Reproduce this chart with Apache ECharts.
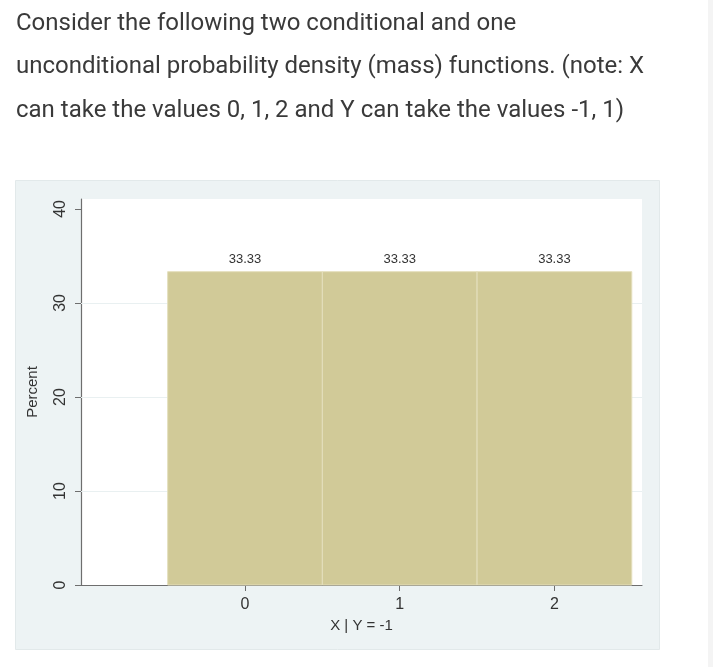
<!DOCTYPE html>
<html>
<head>
<meta charset="utf-8">
<script src="https://cdn.jsdelivr.net/npm/echarts@6/dist/echarts.min.js"></script>
<style>
html,body{margin:0;padding:0;background:#fff;}
#chart{width:713px;height:667px;}
</style>
</head>
<body>
<div id="chart"></div>
<script>
// ---- data ----
const questionLines = [
  'Consider the following two conditional and one',
  'unconditional probability density (mass) functions. (note: X',
  'can take the values 0, 1, 2 and Y can take the values -1, 1)'
];
const xValues = [0, 1, 2];
const percents = [33.33, 33.33, 33.33];
const yTickValues = [0, 10, 20, 30, 40];
const xTickValues = [0, 1, 2];
const xTitle = 'X | Y = -1';
const yTitle = 'Percent';

const barData = xValues.map((x, i) => [x, percents[i]]);
const labelFont = 'Liberation Sans, Arial, Helvetica, sans-serif';

const chart = echarts.init(document.getElementById('chart'), null, {renderer: 'canvas'});
chart.setOption({
  animation: false,
  backgroundColor: '#ffffff',
  title: {
    text: questionLines.join('\n'),
    left: 16,
    top: 2,
    padding: 0,
    textStyle: {
      fontFamily: 'Roboto',
      fontSize: 24,
      fontWeight: 'normal',
      color: '#3a3a3a',
      lineHeight: 43.5
    }
  },
  graphic: [
    {
      type: 'rect', z: -100, silent: true,
      shape: {x: 15.5, y: 180.5, width: 644, height: 469},
      style: {fill: '#edf3f4', stroke: '#e2e9ea', lineWidth: 1}
    },
    {
      type: 'rect', z: -100, silent: true,
      shape: {x: 708, y: 0, width: 5, height: 667},
      style: {fill: '#f4f4f4'}
    }
  ],
  grid: {
    left: 81, right: 71, top: 199, bottom: 82,
    show: true, backgroundColor: '#ffffff', borderWidth: 0
  },
  xAxis: {
    type: 'value',
    min: -1.06,
    max: 2.566,
    name: xTitle,
    nameLocation: 'middle',
    nameGap: 32,
    nameTextStyle: {fontFamily: labelFont, fontSize: 15, color: '#333'},
    axisLine: {show: true, onZero: false, lineStyle: {color: '#6e6e6e', width: 1.2}},
    axisTick: {show: true, length: 6, customValues: xTickValues, lineStyle: {color: '#6e6e6e'}},
    axisLabel: {customValues: xTickValues, fontFamily: labelFont, fontSize: 16, color: '#333', margin: 12},
    splitLine: {show: false}
  },
  yAxis: {
    type: 'value',
    min: 0,
    max: 41.06,
    name: yTitle,
    nameLocation: 'middle',
    nameGap: 41,
    nameRotate: 90,
    nameTextStyle: {fontFamily: labelFont, fontSize: 15, color: '#333'},
    axisLine: {show: true, onZero: false, lineStyle: {color: '#6e6e6e', width: 1.2}},
    axisTick: {show: true, length: 6, customValues: yTickValues, lineStyle: {color: '#6e6e6e'}},
    axisLabel: {customValues: yTickValues, rotate: 90, fontFamily: labelFont, fontSize: 16, color: '#333', margin: 12},
    splitLine: {show: false}
  },
  series: [
    {
      type: 'line',
      silent: true,
      data: [],
      z: 1,
      markLine: {
        silent: true,
        z: 1,
        symbol: 'none',
        label: {show: false},
        lineStyle: {color: '#e9f0f1', width: 1, type: 'solid'},
        data: yTickValues.slice(1, -1).map(v => ({yAxis: v}))
      }
    },
    {
      type: 'custom',
      z: 4,
      data: barData,
      renderItem: function (params, api) {
        const x = api.value(0), y = api.value(1);
        const p0 = api.coord([x - 0.5, 0]);
        const p1 = api.coord([x + 0.5, y]);
        return {
          type: 'group',
          children: [
            {
              type: 'rect',
              shape: {x: p0[0], y: p1[1], width: p1[0] - p0[0], height: p0[1] - p1[1]},
              style: {fill: '#d1ca98', stroke: '#e4dfbd', lineWidth: 1}
            },
            {
              type: 'text',
              style: {
                text: y.toFixed(2),
                x: (p0[0] + p1[0]) / 2,
                y: p1[1] - 12.5,
                align: 'center',
                verticalAlign: 'middle',
                fontFamily: labelFont,
                fontSize: 13,
                fill: '#333'
              }
            }
          ]
        };
      }
    }
  ]
});
</script>
</body>
</html>
